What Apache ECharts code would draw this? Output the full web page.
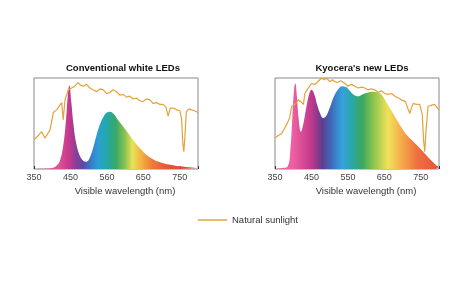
<!DOCTYPE html>
<html>
<head>
<meta charset="utf-8">
<script src="https://cdn.jsdelivr.net/npm/echarts@6/dist/echarts.min.js"></script>
<style>
html, body { margin: 0; padding: 0; background: #fff; }
#main { width: 474px; height: 284px; }
</style>
</head>
<body>
<div id="main"></div>
<script>
// wavelength (nm), relative intensity
const sunWl1 = [350, 360, 371, 380, 388, 394, 403, 412, 419, 426, 430, 435, 444, 453, 462, 471, 478, 485, 494, 503, 512, 522, 531, 540, 549, 558, 567, 576, 586, 595, 604, 613, 622, 631, 640, 649, 658, 668, 677, 686, 695, 704, 712, 718, 724, 733, 741, 750, 755, 758, 761, 764, 768, 775, 782, 790, 800];
const sun1 = [0.32, 0.36, 0.41, 0.34, 0.39, 0.43, 0.62, 0.65, 0.69, 0.73, 0.54, 0.76, 0.87, 0.89, 0.91, 0.95, 0.92, 0.91, 0.93, 0.89, 0.87, 0.85, 0.88, 0.87, 0.83, 0.84, 0.87, 0.85, 0.81, 0.82, 0.79, 0.80, 0.77, 0.78, 0.75, 0.74, 0.77, 0.76, 0.72, 0.73, 0.71, 0.71, 0.68, 0.58, 0.67, 0.67, 0.65, 0.64, 0.55, 0.3, 0.19, 0.35, 0.63, 0.66, 0.65, 0.64, 0.62];

const ledWl1 = [350, 390, 400, 410, 420, 430, 438, 443, 447, 452, 458, 465, 475, 485, 492, 500, 510, 520, 530, 540, 550, 558, 570, 580, 600, 620, 640, 660, 680, 700, 720, 750, 800];
const led1 = [0, 0.005, 0.01, 0.03, 0.08, 0.25, 0.55, 0.82, 0.92, 0.75, 0.5, 0.3, 0.15, 0.09, 0.08, 0.1, 0.2, 0.35, 0.48, 0.57, 0.62, 0.63, 0.6, 0.54, 0.44, 0.33, 0.23, 0.15, 0.1, 0.07, 0.05, 0.03, 0.01];

const sunWl2 = [350, 360, 368, 375, 382, 390, 396, 405, 414, 421, 428, 432, 440, 450, 460, 470, 478, 485, 491, 500, 508, 514, 522, 530, 542, 550, 560, 569, 578, 588, 596, 605, 614, 624, 633, 642, 651, 660, 670, 679, 688, 697, 708, 715, 720, 725, 729, 738, 747, 754, 758, 761, 764, 770, 778, 788, 800];
const sun2 = [0.34, 0.37, 0.39, 0.44, 0.49, 0.56, 0.69, 0.71, 0.76, 0.74, 0.71, 0.83, 0.88, 0.94, 0.93, 0.97, 1.0, 0.98, 1.0, 0.96, 0.98, 0.96, 0.95, 0.97, 0.94, 0.91, 0.93, 0.91, 0.89, 0.9, 0.89, 0.87, 0.88, 0.87, 0.84, 0.86, 0.83, 0.82, 0.83, 0.8, 0.78, 0.76, 0.74, 0.66, 0.61, 0.68, 0.72, 0.71, 0.71, 0.6, 0.3, 0.19, 0.4, 0.69, 0.7, 0.71, 0.65];

const ledWl2 = [350, 370, 385, 392, 398, 403, 406, 410, 415, 421, 428, 437, 445, 450, 458, 466, 475, 482, 490, 500, 512, 524, 534, 545, 555, 568, 578, 590, 605, 619, 632, 642, 655, 668, 680, 695, 710, 730, 752, 775, 790, 800];
const led2 = [0, 0.01, 0.03, 0.2, 0.6, 0.9, 0.94, 0.8, 0.55, 0.41, 0.5, 0.7, 0.84, 0.87, 0.82, 0.7, 0.6, 0.56, 0.58, 0.67, 0.8, 0.88, 0.91, 0.9, 0.86, 0.81, 0.8, 0.82, 0.84, 0.85, 0.84, 0.82, 0.74, 0.65, 0.57, 0.47, 0.38, 0.3, 0.21, 0.11, 0.05, 0.02];

const tickLabels1 = ['350', '450', '560', '650', '750'];
const tickLabels2 = ['350', '450', '550', '650', '750'];
const titles = ['Conventional white LEDs', "Kyocera's new LEDs"];

const zip = (xs, ys) => xs.map((x, i) => [x, ys[i]]);

const sunColor = '#e3a33a';

const rainbow1 = new echarts.graphic.LinearGradient(0, 0, 1, 0, [
    {offset: 0, color: '#e2669f'},
    {offset: 0.156, color: '#e04d98'},
    {offset: 0.211, color: '#c8398a'},
    {offset: 0.256, color: '#8a3e98'},
    {offset: 0.3, color: '#5a4aa8'},
    {offset: 0.344, color: '#3a78c8'},
    {offset: 0.389, color: '#2a9fd6'},
    {offset: 0.444, color: '#24a8a8'},
    {offset: 0.5, color: '#38a868'},
    {offset: 0.556, color: '#8cc450'},
    {offset: 0.6, color: '#e8e35a'},
    {offset: 0.656, color: '#f2b040'},
    {offset: 0.722, color: '#ee7a3a'},
    {offset: 0.822, color: '#e65236'},
    {offset: 1, color: '#e04432'},
]);

const rainbow2 = new echarts.graphic.LinearGradient(0, 0, 1, 0, [
    {offset: 0, color: '#ee6aa6'},
    {offset: 0.111, color: '#ee5fa0'},
    {offset: 0.222, color: '#c0388c'},
    {offset: 0.289, color: '#5e3d8e'},
    {offset: 0.344, color: '#3f6bbb'},
    {offset: 0.411, color: '#35a2dc'},
    {offset: 0.467, color: '#2aa6a8'},
    {offset: 0.533, color: '#3aa860'},
    {offset: 0.6, color: '#8cc44c'},
    {offset: 0.689, color: '#f0e25a'},
    {offset: 0.778, color: '#f5a748'},
    {offset: 0.867, color: '#ee7040'},
    {offset: 1, color: '#e8503a'},
]);

const makeX = (idx, labels) => ({
    type: 'value',
    gridIndex: idx,
    min: 350,
    max: 800,
    interval: 100,
    name: 'Visible wavelength (nm)',
    nameLocation: 'middle',
    nameGap: 17,
    nameTextStyle: {color: '#333', fontSize: 9.5, fontFamily: 'Liberation Sans', padding: [0, 0, 0, 18]},
    axisLine: {show: false},
    axisTick: {show: true, inside: true, length: 3, lineStyle: {color: '#333'}},
    splitLine: {show: false},
    axisLabel: {
        color: '#444',
        fontSize: 9,
        fontFamily: 'Liberation Sans',
        margin: 4,
        formatter: (v) => {
            const i = Math.round((v - 350) / 100);
            return v < 800 ? labels[i] : '';
        },
    },
});

const makeY = (idx) => ({
    type: 'value',
    gridIndex: idx,
    min: 0,
    max: 1,
    show: false,
});

const chart = echarts.init(document.getElementById('main'));
chart.setOption({
    animation: false,
    title: [
        {text: titles[0], left: 118, top: 58, textAlign: 'center',
            textStyle: {fontSize: 9.5, fontWeight: 'bold', color: '#111', fontFamily: 'Liberation Sans'}},
        {text: titles[1], left: 357, top: 58, textAlign: 'center',
            textStyle: {fontSize: 9.5, fontWeight: 'bold', color: '#111', fontFamily: 'Liberation Sans'}},
    ],
    legend: {
        data: ['Natural sunlight'],
        left: 193,
        top: 210,
        icon: 'rect',
        itemWidth: 29,
        itemHeight: 1.5,
        itemGap: 8,
        textStyle: {color: '#333', fontSize: 9.5, fontFamily: 'Liberation Sans'},
    },
    grid: [
        {left: 34, top: 78, width: 164, height: 91, show: true, borderColor: '#888', borderWidth: 1},
        {left: 275, top: 78, width: 164, height: 91, show: true, borderColor: '#888', borderWidth: 1},
    ],
    xAxis: [makeX(0, tickLabels1), makeX(1, tickLabels2)],
    yAxis: [makeY(0), makeY(1)],
    series: [
        {
            type: 'line', xAxisIndex: 0, yAxisIndex: 0,
            data: zip(ledWl1, led1), smooth: 0.4, symbol: 'none',
            lineStyle: {width: 0}, areaStyle: {color: rainbow1, opacity: 1},
        },
        {
            type: 'line', xAxisIndex: 1, yAxisIndex: 1,
            data: zip(ledWl2, led2), smooth: 0.4, symbol: 'none',
            lineStyle: {width: 0}, areaStyle: {color: rainbow2, opacity: 1},
        },
        {
            name: 'Natural sunlight', type: 'line', xAxisIndex: 0, yAxisIndex: 0,
            data: zip(sunWl1, sun1), symbol: 'none', color: sunColor,
            lineStyle: {width: 1.2, color: sunColor},
        },
        {
            name: 'Natural sunlight', type: 'line', xAxisIndex: 1, yAxisIndex: 1,
            data: zip(sunWl2, sun2), symbol: 'none', color: sunColor,
            lineStyle: {width: 1.2, color: sunColor},
        },
    ],
});
</script>
</body>
</html>
